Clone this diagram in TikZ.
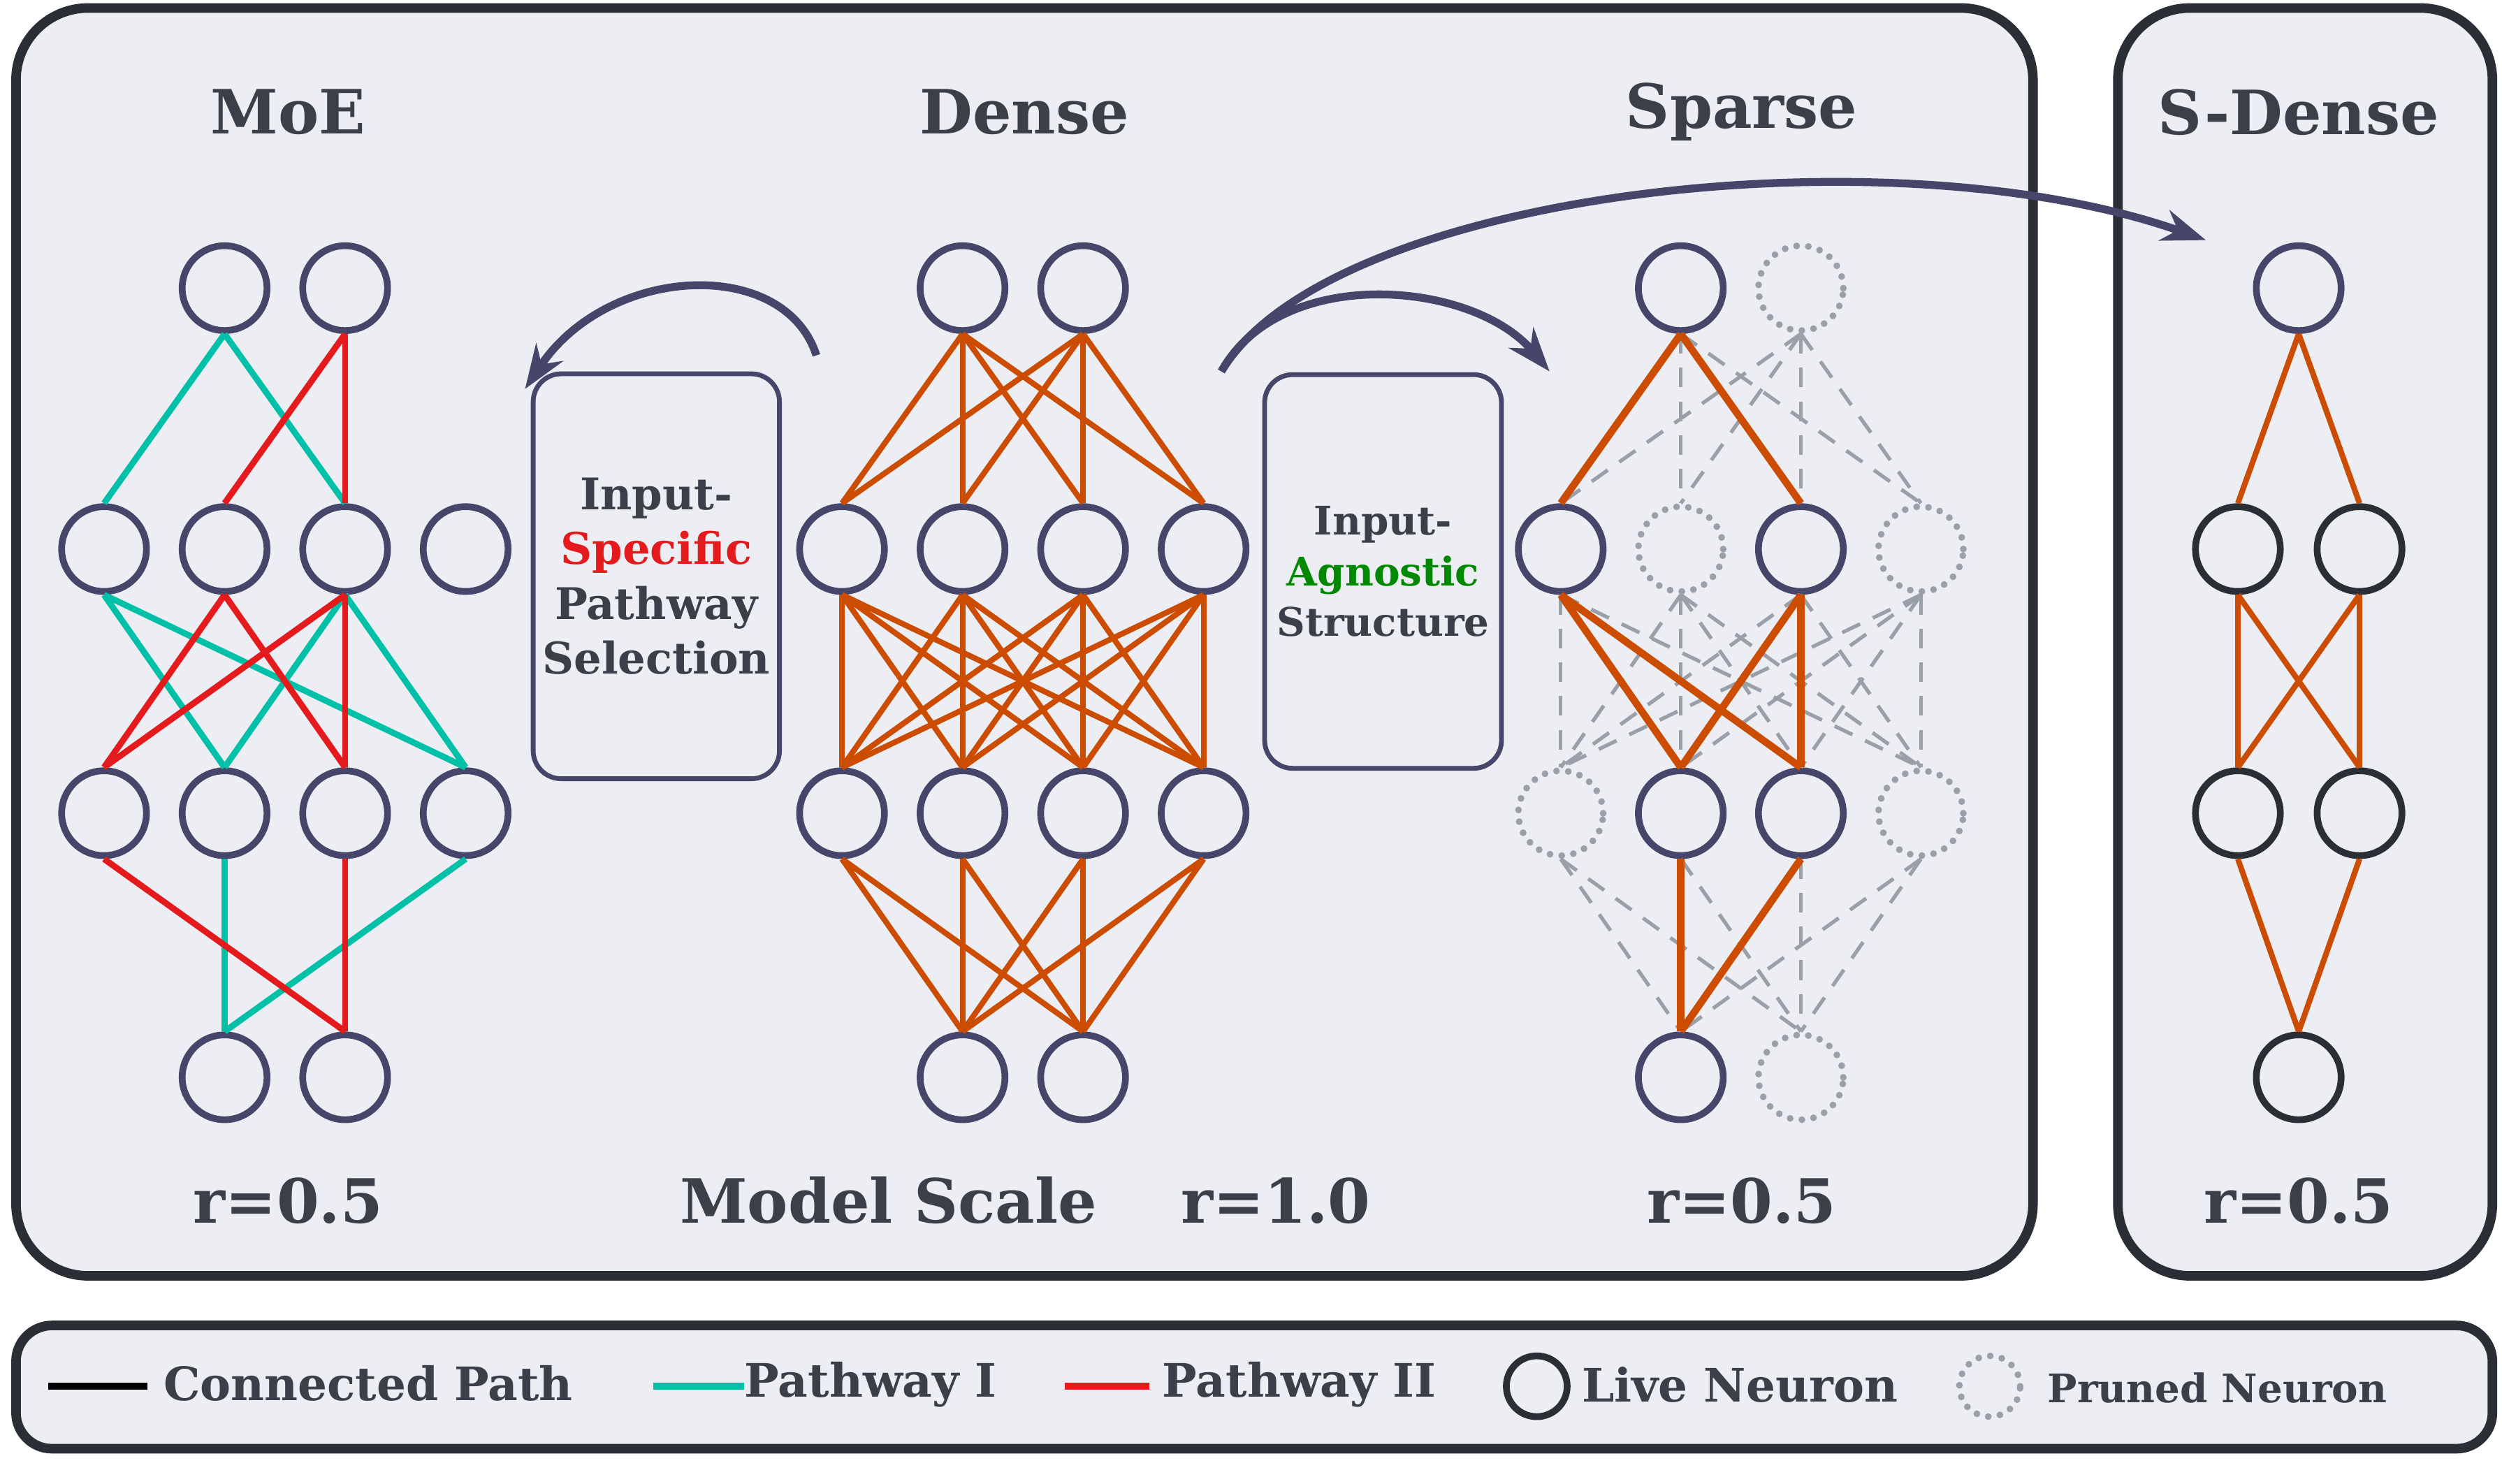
\documentclass[tikz,border=0pt]{standalone}
\usepackage{fontspec}
\setmainfont{DejaVu Serif}
\usetikzlibrary{arrows.meta}
\definecolor{FrameDark}{HTML}{2A2E35}
\definecolor{PanelBG}{HTML}{EDEEF3}
\definecolor{NeuronEdge}{HTML}{46466A}
\definecolor{TextDark}{HTML}{3A3F4A}
\definecolor{PathOrange}{HTML}{CC4C02}
\definecolor{PathTeal}{HTML}{00C0A8}
\definecolor{PathRed}{HTML}{E41A1C}
\definecolor{PrunedGray}{HTML}{9AA0A8}
\definecolor{AgnGreen}{HTML}{008800}

\begin{document}
\begin{tikzpicture}[
    x=0.02cm, y=-0.02cm,
    font=\bfseries,
    >=Stealth,
    % 神经元样式
    neuron/.style={circle, draw=NeuronEdge, line width=2.4pt, minimum size=1.06cm, inner sep=0pt},
    live/.style={neuron, draw=FrameDark},
    pruned/.style={circle, draw=PrunedGray, line width=2.4pt, line cap=round, dash pattern=on 0pt off 4.2pt, minimum size=1.06cm, inner sep=0pt},
    frame/.style={draw=FrameDark, fill=PanelBG, line width=3.4pt, rounded corners=0.9cm},
    tbox/.style={draw=NeuronEdge, line width=1.7pt, rounded corners=0.35cm},
    title/.style={text=TextDark, font=\fontsize{21.7}{25}\selectfont\bfseries},
    ratio/.style={text=TextDark, font=\fontsize{21.7}{25}\selectfont\bfseries},
    edge/.style={line width=2pt, PathOrange},
    thick edge/.style={line width=2.6pt, PathOrange},
    ghost/.style={line width=1.3pt, PrunedGray, dash pattern=on 7pt off 5pt},
    flow/.style={->, NeuronEdge, line width=2.8pt, -{Stealth[length=0.55cm, width=0.4cm]}}
]

    % --- 1. 外框 ---
    \useasboundingbox (0,0) rectangle (1563,927);
    \draw[frame] (10,5) rectangle (1270,797);
    \draw[frame] (1323,5) rectangle (1557,797);
    \draw[frame, rounded corners=0.45cm] (10,828) rectangle (1557,905);

    % --- 2. 标题 ---
    \node[title] (tMoE) at (180,70) {MoE};
    \node[title] (tDense) at (640,70) {Dense};
    \node[title] (tSparse) at (1088,70) {Sparse};
    \node[title] (tSD) at (1436,70) {S-Dense};

    % --- 3. 神经元 ---
    \foreach \net/\bx in {moe/65, dense/526} {
        \foreach \i in {2,3} {
            \node[neuron] (\net-1-\i) at ({\bx+75.3*(\i-1)},180) {};
            \node[neuron] (\net-4-\i) at ({\bx+75.3*(\i-1)},673) {};
        }
        \foreach \i in {1,...,4} {
            \node[neuron] (\net-2-\i) at ({\bx+75.3*(\i-1)},343) {};
            \node[neuron] (\net-3-\i) at ({\bx+75.3*(\i-1)},508) {};
        }
    }
    \foreach \l/\i/\st/\yy in {1/2/neuron/180, 1/3/pruned/180,
        2/1/neuron/343, 2/2/pruned/343, 2/3/neuron/343, 2/4/pruned/343,
        3/1/pruned/508, 3/2/neuron/508, 3/3/neuron/508, 3/4/pruned/508,
        4/2/neuron/673, 4/3/pruned/673} {
        \node[\st] (sp-\l-\i) at ({975+75*(\i-1)},\yy) {};
    }
    \node[neuron] (sd-1) at (1436,180) {};
    \node[live] (sd-2a) at (1398,343) {};
    \node[live] (sd-2b) at (1474,343) {};
    \node[live] (sd-3a) at (1398,508) {};
    \node[live] (sd-3b) at (1474,508) {};
    \node[live] (sd-4) at (1436,673) {};

    % --- 4. MoE 通路 ---
    \foreach \a/\b in {1-2/2-1, 1-2/2-3, 2-1/3-2, 2-1/3-4, 2-3/3-2, 2-3/3-4, 3-2/4-2, 3-4/4-2}
        \draw[PathTeal, line width=2.2pt] (moe-\a.south) -- (moe-\b.north);
    \foreach \a/\b in {1-3/2-2, 1-3/2-3, 2-2/3-1, 2-2/3-3, 2-3/3-1, 2-3/3-3, 3-1/4-3, 3-3/4-3}
        \draw[PathRed, line width=2.2pt] (moe-\a.south) -- (moe-\b.north);

    % --- 5. Dense 全连接 ---
    \foreach \i in {2,3} \foreach \j in {1,...,4} {
        \draw[edge] (dense-1-\i.south) -- (dense-2-\j.north);
        \draw[edge] (dense-3-\j.south) -- (dense-4-\i.north);
    }
    \foreach \i in {1,...,4} \foreach \j in {1,...,4}
        \draw[edge] (dense-2-\i.south) -- (dense-3-\j.north);

    % --- 6. Sparse: 虚线 + 保留连接 ---
    \foreach \i in {2,3} \foreach \j in {1,...,4} {
        \draw[ghost] (sp-1-\i.south) -- (sp-2-\j.north);
        \draw[ghost] (sp-3-\j.south) -- (sp-4-\i.north);
    }
    \foreach \i in {1,...,4} \foreach \j in {1,...,4}
        \draw[ghost] (sp-2-\i.south) -- (sp-3-\j.north);
    \foreach \a/\b in {1-2/2-1, 1-2/2-3, 2-1/3-2, 2-1/3-3, 2-3/3-2, 2-3/3-3, 3-2/4-2, 3-3/4-2}
        \draw[thick edge] (sp-\a.south) -- (sp-\b.north);

    % --- 7. S-Dense ---
    \foreach \a/\b in {1/2a, 1/2b, 2a/3a, 2a/3b, 2b/3a, 2b/3b, 3a/4, 3b/4}
        \draw[edge] (sd-\a.south) -- (sd-\b.north);

    % --- 8. 说明框与箭头 ---
    \node[tbox, minimum width=3.04cm, minimum height=5.06cm, align=center,
          text=TextDark, font=\fontsize{15.5}{19.5}\selectfont\bfseries] (selBox) at (410,360)
          {Input-\\\textcolor{PathRed}{Specific}\\Pathway\\Selection};
    \node[tbox, minimum width=2.96cm, minimum height=4.92cm, align=center,
          text=TextDark, font=\fontsize{14}{18}\selectfont\bfseries] (agnBox) at (864,357)
          {Input-\\\textcolor{AgnGreen}{Agnostic}\\Structure};

    \coordinate (arrS1) at (510,222);
    \coordinate (arrE1) at (328,243);
    \coordinate (arrS2) at (763,232);
    \coordinate (arrE2) at (968,232);
    \coordinate (arrE3) at (1378,150);
    \draw[flow] (arrS1) .. controls (490,160) and (380,165) .. (arrE1);
    \draw[flow] (arrS2) .. controls (800,165) and (920,175) .. (arrE2);
    \draw[flow] (arrS2) .. controls (830,120) and (1180,80) .. (arrE3);

    % --- 9. 底部标注 ---
    \node[ratio] (rMoE) at (180,750) {r=0.5};
    \node[ratio] (scale) at (555,750) {Model Scale};
    \node[ratio] (rDense) at (797,750) {r=1.0};
    \node[ratio] (rSparse) at (1088,750) {r=0.5};
    \node[ratio] (rSD) at (1436,750) {r=0.5};

    % --- 10. 图例 ---
    \begin{scope}[text=TextDark, font=\fontsize{16.4}{19}\selectfont\bfseries]
        \coordinate (lgA1) at (30,866); \coordinate (lgA2) at (92,866);
        \draw[black, line width=2.4pt] (lgA1) -- (lgA2);
        \node[right] (lgT1) at (96,864) {Connected Path};
        \coordinate (lgB1) at (408,866); \coordinate (lgB2) at (465,866);
        \draw[PathTeal, line width=2.4pt] (lgB1) -- (lgB2);
        \node[right] (lgT2) at (459,865) {Pathway I};
        \coordinate (lgC1) at (665,866); \coordinate (lgC2) at (718,866);
        \draw[PathRed, line width=2.4pt] (lgC1) -- (lgC2);
        \node[right] (lgT3) at (720,865) {Pathway II};
        \node[live, minimum size=0.76cm] (lgLive) at (960,866) {};
        \node[right] (lgT4) at (982,865) {Live Neuron};
        \node[pruned, minimum size=0.76cm] (lgPruned) at (1243,866) {};
        \node[right, font=\fontsize{14}{17}\selectfont\bfseries] (lgT5) at (1273,867) {Pruned Neuron};
    \end{scope}

\end{tikzpicture}
\end{document}
